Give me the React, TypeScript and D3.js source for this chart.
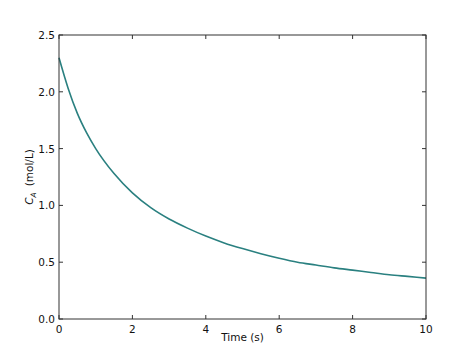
import React from "react";
import * as d3 from "d3";

const times = [0, 0.25, 0.5, 0.75, 1, 1.5, 2, 2.5, 3, 3.5, 4, 4.5, 5, 5.5, 6, 6.5, 7, 7.5, 8, 8.5, 9, 9.5, 10];
const conc = [2.3, 2.03, 1.81, 1.64, 1.5, 1.28, 1.11, 0.98, 0.88, 0.8, 0.73, 0.67, 0.62, 0.575, 0.535, 0.5, 0.475, 0.45, 0.43, 0.41, 0.39, 0.375, 0.36];
const xTicks = [0, 2, 4, 6, 8, 10];
const yTicks = [0.0, 0.5, 1.0, 1.5, 2.0, 2.5];

export default function App() {
  const W = 474, H = 355;
  const left = 59, right = 426, top = 35, bottom = 319;
  const x = d3.scaleLinear().domain([0, 10]).range([left, right]);
  const y = d3.scaleLinear().domain([0, 2.5]).range([bottom, top]);
  const pts: [number, number][] = times.map((t, i) => [t, conc[i]]);
  const line = d3.line<[number, number]>().x(d => x(d[0])).y(d => y(d[1])).curve(d3.curveMonotoneX);
  const font = "DejaVu Sans, sans-serif";
  return (
    <svg width={W} height={H} style={{ position: "absolute", left: 0, top: 0 }} fontFamily={font}>
      <rect width={W} height={H} fill="#fff" />
      <path d={line(pts) || ""} fill="none" stroke="#2a8080" strokeWidth={1.6} />
      <rect x={left} y={top} width={right - left} height={bottom - top} fill="none" stroke="#333" strokeWidth={1} />
      {xTicks.map(t => (
        <g key={"x" + t}>
          <line x1={x(t)} x2={x(t)} y1={bottom} y2={bottom - 4} stroke="#333" />
          <line x1={x(t)} x2={x(t)} y1={top} y2={top + 4} stroke="#333" />
          <text x={x(t)} y={bottom + 14} fontSize={10.5} textAnchor="middle" fill="#111">{t}</text>
        </g>
      ))}
      {yTicks.map(t => (
        <g key={"y" + t}>
          <line x1={left} x2={left + 4} y1={y(t)} y2={y(t)} stroke="#333" />
          <line x1={right} x2={right - 4} y1={y(t)} y2={y(t)} stroke="#333" />
          <text x={left - 4} y={y(t) + 4} fontSize={10.5} textAnchor="end" fill="#111">{t.toFixed(1)}</text>
        </g>
      ))}
      <text x={(left + right) / 2} y={341} fontSize={10.5} textAnchor="middle" fill="#111">Time (s)</text>
      <text transform={`translate(33, ${(top + bottom) / 2}) rotate(-90)`} fontSize={10.5} textAnchor="middle" fill="#111">
        <tspan fontStyle="italic">C</tspan>
        <tspan fontStyle="italic" fontSize={7.5} dy={3}>A</tspan>
        <tspan dy={-3} dx={6}>(mol/L)</tspan>
      </text>
    </svg>
  );
}
